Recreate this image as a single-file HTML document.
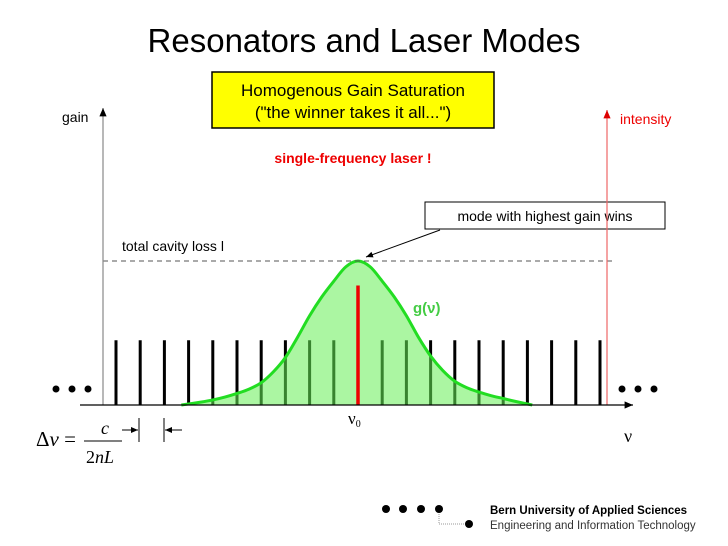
<!DOCTYPE html>
<html><head><meta charset="utf-8"><style>
body{margin:0;background:#fff;}
svg{display:block;font-family:"Liberation Sans",sans-serif;}
</style></head><body>
<svg width="728" height="546" viewBox="0 0 728 546">
<defs>
<marker id="ah" markerWidth="8" markerHeight="8" refX="7" refY="4" orient="auto"><path d="M0,1 L7,4 L0,7 z" fill="#000"/></marker>
<marker id="ahr" markerWidth="8" markerHeight="8" refX="7" refY="4" orient="auto"><path d="M0,1 L7,4 L0,7 z" fill="#d00"/></marker>
</defs>
<text x="364" y="52" font-size="33" text-anchor="middle">Resonators and Laser Modes</text>
<g>
<rect x="212" y="72" width="282" height="56" fill="#ffff00" stroke="#000" stroke-width="1.5"/>
<text x="353" y="96" font-size="17" text-anchor="middle">Homogenous Gain Saturation</text>
<text x="353" y="118" font-size="17" text-anchor="middle">("the winner takes it all...")</text>
</g>
<text x="353" y="163" font-size="14" font-weight="bold" fill="#e00" text-anchor="middle">single-frequency laser !</text>
<g>
<rect x="425" y="202" width="240" height="27" fill="#fff" stroke="#000" stroke-width="1"/>
<text x="545" y="221" font-size="14" text-anchor="middle">mode with highest gain wins</text>
<line x1="440" y1="230" x2="366" y2="257" stroke="#000" stroke-width="1" marker-end="url(#ah)"/>
</g>
<text x="62" y="122" font-size="14">gain</text>
<text x="620" y="124" font-size="14" fill="#e00">intensity</text>
<text x="122" y="251" font-size="14">total cavity loss l</text>
<g id="plot"></g>
<line x1="103" y1="405" x2="103" y2="108" stroke="#888" stroke-width="1.2" marker-end="url(#ah)"/>
<line x1="607" y1="405" x2="607" y2="110" stroke="#e66" stroke-width="1.2" marker-end="url(#ahr)"/>
<line x1="80" y1="405" x2="633" y2="405" stroke="#000" stroke-width="1.2" marker-end="url(#ah)"/>
<text x="413" y="313" font-size="15" font-weight="bold" fill="#4c4">g(ν)</text>
<g fill="#000"><circle cx="56" cy="389" r="3.5"/><circle cx="72" cy="389" r="3.5"/><circle cx="88" cy="389" r="3.5"/></g>
<g fill="#000"><circle cx="622" cy="389" r="3.5"/><circle cx="638" cy="389" r="3.5"/><circle cx="654" cy="389" r="3.5"/></g>
<text x="348" y="424" font-size="17" font-family="Liberation Serif">ν<tspan font-size="10" dy="3">0</tspan></text>
<text x="624" y="442" font-size="18" font-family="Liberation Serif">ν</text>
<g font-family="Liberation Serif" font-style="italic">
<text x="36" y="446" font-size="21" font-style="normal">Δ<tspan font-style="italic">ν</tspan> =</text>
<text x="101" y="434" font-size="18">c</text>
<line x1="84" y1="441" x2="122" y2="441" stroke="#000"/>
<text x="86" y="463" font-size="18" font-style="normal">2<tspan font-style="italic">nL</tspan></text>
</g>
<g>
<line x1="139" y1="418" x2="139" y2="442" stroke="#000"/>
<line x1="164" y1="418" x2="164" y2="442" stroke="#000"/>
<line x1="122" y1="430" x2="138" y2="430" stroke="#000" marker-end="url(#ah)"/>
<line x1="182" y1="430" x2="165" y2="430" stroke="#000" marker-end="url(#ah)"/>
</g>
<g>
<circle cx="386" cy="509" r="4"/><circle cx="403" cy="509" r="4"/><circle cx="421" cy="509" r="4"/><circle cx="439" cy="509" r="4"/>
<polyline points="439,514 439,524 466,524" fill="none" stroke="#999" stroke-dasharray="1,1"/>
<circle cx="469" cy="524" r="4"/>
<text x="490" y="514" font-size="11.5" font-weight="bold">Bern University of Applied Sciences</text>
<text x="490" y="529" font-size="11.5" fill="#333">Engineering and Information Technology</text>
</g>
</svg>
<script>
const modeOffsets=[-10,-9,-8,-7,-6,-5,-4,-3,-2,-1,0,1,2,3,4,5,6,7,8,9,10];
const modeHeights=[0.45,0.45,0.45,0.45,0.45,0.45,0.45,0.45,0.45,0.45,0.83,0.45,0.45,0.45,0.45,0.45,0.45,0.45,0.45,0.45,0.45];
const winnerIndex=10;
const curveOffsets=[-7.3,-6.5,-6,-5.5,-5,-4.5,-4,-3.5,-3,-2.5,-2,-1.5,-1,-0.5,0,0.5,1,1.5,2,2.5,3,3.5,4,4.5,5,5.5,6,6.5,7.2];
const curveGains=[0,0.02,0.035,0.055,0.08,0.11,0.155,0.23,0.33,0.47,0.62,0.75,0.86,0.96,1,0.96,0.86,0.75,0.62,0.47,0.34,0.24,0.165,0.12,0.09,0.065,0.045,0.025,0];
const lossLevel=1;
const NS='http://www.w3.org/2000/svg';
const g=document.getElementById('plot');
const X=o=>358+o*24.2, Y=v=>405-v*144;
function el(t,a){const e=document.createElementNS(NS,t);for(const k in a)e.setAttribute(k,a[k]);g.appendChild(e);return e;}
const pts=curveOffsets.map((o,i)=>[X(o),Y(curveGains[i])]);
let d='M'+pts[0][0]+','+pts[0][1];
for(let i=0;i<pts.length-1;i++){const p0=pts[Math.max(0,i-1)],p1=pts[i],p2=pts[i+1],p3=pts[Math.min(pts.length-1,i+2)];
d+=' C'+(p1[0]+(p2[0]-p0[0])/6)+','+(p1[1]+(p2[1]-p0[1])/6)+' '+(p2[0]-(p3[0]-p1[0])/6)+','+(p2[1]-(p3[1]-p1[1])/6)+' '+p2[0]+','+p2[1];}
modeOffsets.forEach((o,i)=>{
 if(i===winnerIndex)return;
 const l=el('line',{x1:X(o),x2:X(o),y1:405,y2:Y(modeHeights[i]),stroke:'#000','stroke-width':3});
 
 
});
const fill=el('path',{d:d+' Z',fill:'#66ee55','fill-opacity':0.55,stroke:'none'});


const w=el('line',{x1:X(modeOffsets[winnerIndex]),x2:X(modeOffsets[winnerIndex]),y1:405,y2:Y(modeHeights[winnerIndex]),stroke:'#e00','stroke-width':3.5});


const c=el('path',{d:d,fill:'none',stroke:'#22dd22','stroke-width':3});


const ll=el('line',{x1:103,x2:612,y1:Y(lossLevel),y2:Y(lossLevel),stroke:'#555','stroke-dasharray':'5,4','stroke-width':1});


</script>
</body></html>
